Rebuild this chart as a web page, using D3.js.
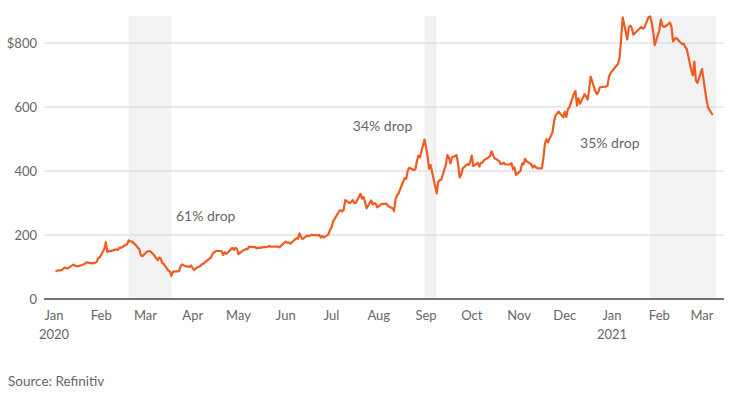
<!DOCTYPE html>
<html><head><meta charset="utf-8">
<script src="https://cdn.jsdelivr.net/npm/d3@7"></script>
<style>
html,body{margin:0;padding:0;background:#fff;}
text{font-family:Lato,"Open Sans",sans-serif;}
</style></head>
<body><svg id="c" width="752" height="393"></svg>
<script>
// Trading days (daily close, USD)
const dates = [
"2020-01-02","2020-01-03","2020-01-06","2020-01-07","2020-01-08","2020-01-09","2020-01-10","2020-01-13","2020-01-14","2020-01-15","2020-01-16","2020-01-17","2020-01-21","2020-01-22","2020-01-23","2020-01-24","2020-01-27","2020-01-28","2020-01-29","2020-01-30","2020-01-31",
"2020-02-03","2020-02-04","2020-02-05","2020-02-06","2020-02-07","2020-02-10","2020-02-11","2020-02-12","2020-02-13","2020-02-14","2020-02-18","2020-02-19","2020-02-20","2020-02-21","2020-02-24","2020-02-25","2020-02-26","2020-02-27","2020-02-28",
"2020-03-02","2020-03-03","2020-03-04","2020-03-05","2020-03-06","2020-03-09","2020-03-10","2020-03-11","2020-03-12","2020-03-13","2020-03-16","2020-03-17","2020-03-18","2020-03-19","2020-03-20","2020-03-23","2020-03-24","2020-03-25","2020-03-26","2020-03-27","2020-03-30","2020-03-31",
"2020-04-01","2020-04-02","2020-04-03","2020-04-06","2020-04-07","2020-04-08","2020-04-09","2020-04-13","2020-04-14","2020-04-15","2020-04-16","2020-04-17","2020-04-20","2020-04-21","2020-04-22","2020-04-23","2020-04-24","2020-04-27","2020-04-28","2020-04-29","2020-04-30",
"2020-05-01","2020-05-04","2020-05-05","2020-05-06","2020-05-07","2020-05-08","2020-05-11","2020-05-12","2020-05-13","2020-05-14","2020-05-15","2020-05-18","2020-05-19","2020-05-20","2020-05-21","2020-05-22","2020-05-26","2020-05-27","2020-05-28","2020-05-29",
"2020-06-01","2020-06-02","2020-06-03","2020-06-04","2020-06-05","2020-06-08","2020-06-09","2020-06-10","2020-06-11","2020-06-12","2020-06-15","2020-06-16","2020-06-17","2020-06-18","2020-06-19","2020-06-22","2020-06-23","2020-06-24","2020-06-25","2020-06-26","2020-06-29","2020-06-30",
"2020-07-01","2020-07-02","2020-07-06","2020-07-07","2020-07-08","2020-07-09","2020-07-10","2020-07-13","2020-07-14","2020-07-15","2020-07-16","2020-07-17","2020-07-20","2020-07-21","2020-07-22","2020-07-23","2020-07-24","2020-07-27","2020-07-28","2020-07-29","2020-07-30","2020-07-31",
"2020-08-03","2020-08-04","2020-08-05","2020-08-06","2020-08-07","2020-08-10","2020-08-11","2020-08-12","2020-08-13","2020-08-14","2020-08-17","2020-08-18","2020-08-19","2020-08-20","2020-08-21","2020-08-24","2020-08-25","2020-08-26","2020-08-27","2020-08-28","2020-08-31",
"2020-09-01","2020-09-02","2020-09-03","2020-09-04","2020-09-08","2020-09-09","2020-09-10","2020-09-11","2020-09-14","2020-09-15","2020-09-16","2020-09-17","2020-09-18","2020-09-21","2020-09-22","2020-09-23","2020-09-24","2020-09-25","2020-09-28","2020-09-29","2020-09-30",
"2020-10-01","2020-10-02","2020-10-05","2020-10-06","2020-10-07","2020-10-08","2020-10-09","2020-10-12","2020-10-13","2020-10-14","2020-10-15","2020-10-16","2020-10-19","2020-10-20","2020-10-21","2020-10-22","2020-10-23","2020-10-26","2020-10-27","2020-10-28","2020-10-29","2020-10-30",
"2020-11-02","2020-11-03","2020-11-04","2020-11-05","2020-11-06","2020-11-09","2020-11-10","2020-11-11","2020-11-12","2020-11-13","2020-11-16","2020-11-17","2020-11-18","2020-11-19","2020-11-20","2020-11-23","2020-11-24","2020-11-25","2020-11-27","2020-11-30",
"2020-12-01","2020-12-02","2020-12-03","2020-12-04","2020-12-07","2020-12-08","2020-12-09","2020-12-10","2020-12-11","2020-12-14","2020-12-15","2020-12-16","2020-12-17","2020-12-18","2020-12-21","2020-12-22","2020-12-23","2020-12-24","2020-12-28","2020-12-29","2020-12-30","2020-12-31",
"2021-01-04","2021-01-05","2021-01-06","2021-01-07","2021-01-08","2021-01-11","2021-01-12","2021-01-13","2021-01-14","2021-01-15","2021-01-19","2021-01-20","2021-01-21","2021-01-22","2021-01-25","2021-01-26","2021-01-27","2021-01-28","2021-01-29",
"2021-02-01","2021-02-02","2021-02-03","2021-02-04","2021-02-05","2021-02-08","2021-02-09","2021-02-10","2021-02-11","2021-02-12","2021-02-16","2021-02-17","2021-02-18","2021-02-19","2021-02-22","2021-02-23","2021-02-24","2021-02-25","2021-02-26",
"2021-03-01","2021-03-02","2021-03-03","2021-03-04","2021-03-05","2021-03-08"
];
const closes = [
86.05,88.60,90.31,93.81,98.43,96.27,95.63,104.97,107.58,103.70,102.70,102.10,109.44,113.91,114.44,112.96,111.60,113.38,116.20,128.16,130.11,
156.00,177.41,146.94,149.79,149.61,154.26,154.88,153.46,160.80,160.01,171.68,183.48,179.88,180.20,166.76,159.98,155.76,135.80,133.60,
148.72,149.10,149.90,144.91,140.70,121.60,129.07,126.85,112.11,109.32,89.01,86.04,72.24,85.53,85.51,86.86,101.00,107.85,105.63,102.87,100.43,104.80,
96.31,90.89,96.00,103.25,109.09,109.77,114.60,130.19,141.98,145.97,149.04,150.78,149.27,137.34,146.42,141.13,145.03,159.75,153.82,160.10,156.38,
140.26,152.24,153.64,156.52,156.01,163.88,162.26,161.88,158.19,160.67,159.83,162.73,161.60,163.11,165.52,163.38,163.77,164.05,161.16,167.00,
179.62,176.31,176.59,172.88,177.13,189.98,188.13,205.01,194.57,187.06,198.18,196.43,198.36,200.79,200.18,198.86,200.36,192.17,197.20,191.95,201.87,215.96,
223.93,241.73,274.32,277.97,273.18,278.86,308.93,299.41,303.36,309.20,300.13,300.17,328.60,313.67,318.47,302.61,283.40,307.92,295.30,299.82,297.50,286.15,
297.00,297.40,297.00,297.92,290.54,283.71,274.88,310.95,324.20,330.14,367.13,377.42,375.71,400.37,410.00,402.84,404.67,430.63,447.75,442.68,498.32,
475.05,447.37,407.00,418.32,330.21,366.28,371.34,372.72,419.62,449.76,441.76,423.43,442.15,449.39,424.23,380.36,387.79,407.34,421.20,419.07,429.01,
448.16,415.09,425.68,413.98,425.30,425.92,434.00,442.30,446.65,461.30,448.88,439.67,430.83,421.94,422.64,425.79,420.63,420.28,424.68,406.02,410.83,388.04,
400.51,423.90,420.98,438.09,429.95,421.26,410.36,417.13,411.76,408.50,408.09,441.61,486.64,499.27,489.61,521.85,555.38,574.00,585.76,567.60,
584.76,568.82,593.38,599.04,641.76,649.88,604.48,627.07,609.99,639.83,633.25,622.77,655.90,695.00,649.86,640.34,645.98,661.77,663.69,665.99,694.78,705.67,
729.77,735.11,755.98,816.04,880.02,811.19,849.44,854.41,845.00,826.16,844.55,850.45,844.99,846.64,880.80,883.09,864.16,835.43,793.53,
839.81,872.79,854.69,849.99,852.23,863.42,849.46,804.82,811.66,816.12,796.22,798.15,787.38,781.30,714.50,698.84,742.02,682.22,675.50,
718.43,686.44,653.20,621.44,597.95,575.00
];
// Shaded drawdown periods
const shadeStarts = ["2020-02-19","2020-08-31","2021-01-26"];
const shadeEnds   = ["2020-03-18","2020-09-08","2021-03-10"];
const dropLabels  = ["61% drop","34% drop","35% drop"];
const dropLabelDates = ["2020-03-21","2020-07-15","2020-12-11"];
const dropLabelValues = [244, 525, 472];
const yTicks = [0,200,400,600,800];
const monthTicks = ["2020-01-01","2020-02-01","2020-03-01","2020-04-01","2020-05-01","2020-06-01","2020-07-01","2020-08-01","2020-09-01","2020-10-01","2020-11-01","2020-12-01","2021-01-01","2021-02-01","2021-03-01"];

const parse = d3.utcParse("%Y-%m-%d");
const svg = d3.select("#c");
const x = d3.scaleUtc().domain([parse("2020-01-01"), parse("2021-03-01")]).range([54, 702]);
const y = d3.scaleLinear().domain([0, 800]).range([299, 43]);
const gridX0 = 44, gridX1 = 724;

// shades
svg.append("g").selectAll("rect").data(shadeStarts).join("rect")
  .attr("x", (d) => x(parse(d)))
  .attr("width", (d,i) => x(parse(shadeEnds[i])) - x(parse(d)))
  .attr("y", 16).attr("height", y(0) - 16)
  .attr("fill", "#f2f2f2");

// grid
svg.append("g").selectAll("line").data(yTicks.filter(v => v > 0)).join("line")
  .attr("x1", gridX0).attr("x2", gridX1)
  .attr("y1", d => y(d)).attr("y2", d => y(d))
  .attr("stroke", "#d6d6d6").attr("stroke-width", 1);

// y labels
svg.append("g").selectAll("text").data(yTicks).join("text")
  .attr("x", 37).attr("y", d => y(d)).attr("dy", "0.35em")
  .attr("text-anchor", "end").attr("fill", "#666").attr("font-size", 13)
  .text(d => d === 800 ? "$800" : d);

// baseline
svg.append("line").attr("x1", gridX0).attr("x2", gridX1)
  .attr("y1", y(0)).attr("y2", y(0)).attr("stroke", "#444").attr("stroke-width", 1.5);

// x labels
const fmt = d3.utcFormat("%b");
const xl = svg.append("g").selectAll("g").data(monthTicks).join("g")
  .attr("transform", d => `translate(${x(parse(d))},0)`);
xl.append("text").attr("y", 320).attr("text-anchor", "middle")
  .attr("fill", "#666").attr("font-size", 13).text(d => fmt(parse(d)));
xl.filter(d => d.endsWith("-01-01")).append("text").attr("y", 339).attr("text-anchor", "middle")
  .attr("fill", "#666").attr("font-size", 13).text(d => d.slice(0,4));

// line
const data = dates.map((d,i) => ({date: parse(d), v: closes[i]}));
svg.append("path").datum(data)
  .attr("fill", "none").attr("stroke", "#ef5c22").attr("stroke-width", 2.2)
  .attr("stroke-linejoin", "round")
  .attr("d", d3.line().x(d => x(d.date)).y(d => y(d.v)));

// annotations
svg.append("g").selectAll("text").data(dropLabels).join("text")
  .attr("x", (d,i) => x(parse(dropLabelDates[i])))
  .attr("y", (d,i) => y(dropLabelValues[i]))
  .attr("fill", "#666").attr("font-size", 14).text(d => d);

svg.append("text").attr("x", 8).attr("y", 386).attr("fill", "#666").attr("font-size", 13.5)
  .text("Source: Refinitiv");
</script></body></html>
